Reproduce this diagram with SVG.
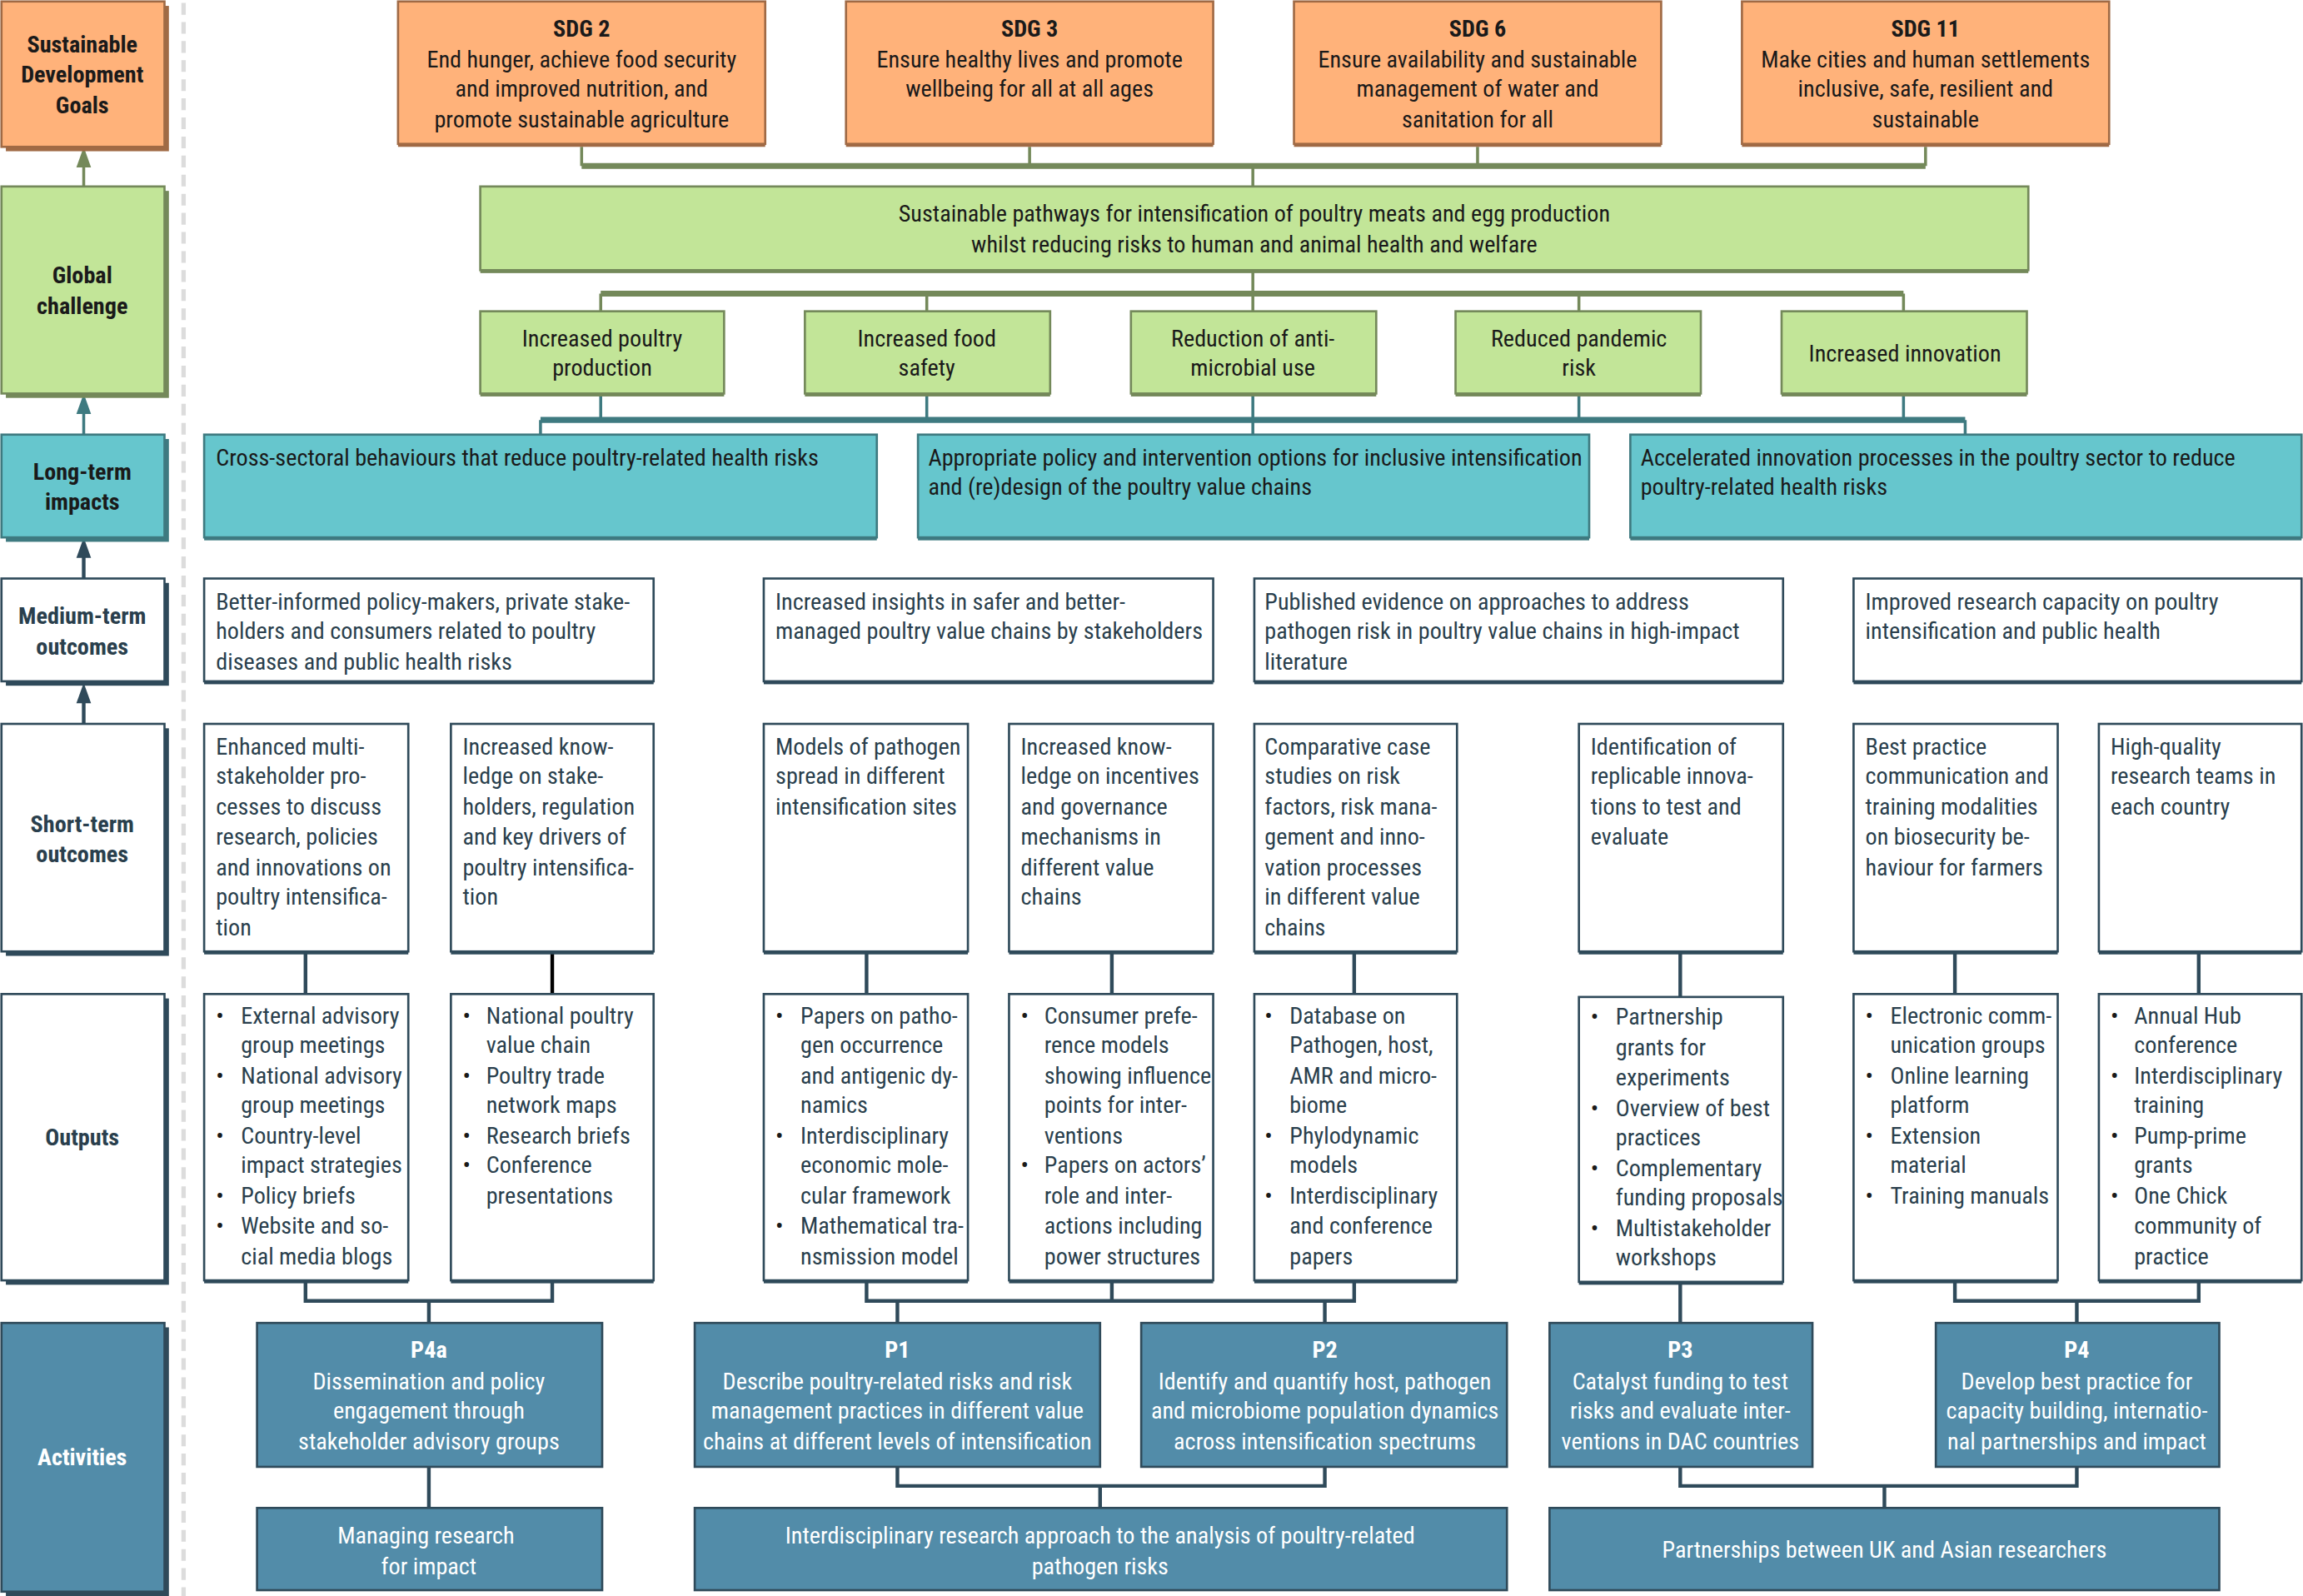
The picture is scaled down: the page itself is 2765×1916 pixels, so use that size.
<svg xmlns="http://www.w3.org/2000/svg" width="2765" height="1916" viewBox="0 0 2765 1916">
<style>
text{font-family:"Liberation Sans Narrow","Roboto Condensed","Arial Narrow","Liberation Sans",sans-serif;font-size:16px;fill:#1a1a1a}
.c{text-anchor:middle}
.b{font-weight:bold}
.w{fill:#ffffff}
.d{fill:#2a3f4d}
.or{fill:#ffb27a;stroke:#a06a45;stroke-width:1.5}
.ors{fill:#a06a45}
.gr{fill:#c2e598;stroke:#74895a;stroke-width:1.5}
.grs{fill:#74895a}
.cy{fill:#66c6cd;stroke:#3e7a80;stroke-width:1.5}
.cys{fill:#3e7a80}
.wh{fill:#ffffff;stroke:#2f4a5a;stroke-width:1.5}
.whs{fill:#2f4a5a}
.ac{fill:#528ca9;stroke:#2f4a5a;stroke-width:1.5}
.cg{fill:none;stroke:#74895a;stroke-width:2}
.cgb{fill:none;stroke:#74895a;stroke-width:4}
.ct{fill:none;stroke:#3e7a80;stroke-width:2}
.ctb{fill:none;stroke:#3e7a80;stroke-width:4}
.cd{fill:none;stroke:#2f4a5a;stroke-width:2.5}
</style>
<defs>
<marker id="ag" markerWidth="10" markerHeight="14" refX="5" refY="2" orient="auto-start-reverse" markerUnits="userSpaceOnUse" viewBox="0 0 10 14"><path d="M5,0 L10,14 L0,14 Z" fill="#74895a"/></marker>
</defs>
<rect width="2765" height="1916" fill="#ffffff"/>
<g transform="scale(1.7634,1.7627)">
<line x1="125" y1="2" x2="125" y2="1087" stroke="#dcdcdc" stroke-width="3" stroke-dasharray="8,5"/>

<g id="connectors">
<path class="cg" d="M57,127 V112"/><path d="M57,100 L62,114 L52,114 Z" fill="#74895a"/>
<path class="ct" d="M57,296 V280"/><path d="M57,268 L62,282 L52,282 Z" fill="#3e7a80"/>
<path class="cd" d="M57,394 V378"/><path d="M57,366 L62,380 L52,380 Z" fill="#2f4a5a"/>
<path class="cd" d="M57,493 V477"/><path d="M57,465 L62,479 L52,479 Z" fill="#2f4a5a"/>

<path class="cg" d="M396,100 V113 M701,100 V113 M1006,100 V113 M1311,100 V113 M853,113 V127"/>
<path class="cgb" d="M396,113 H1311"/>
<path class="cg" d="M853,184 V200 M409,200 V212 M631,200 V212 M853,200 V212 M1075,200 V212 M1296,200 V212"/>
<path class="cgb" d="M409,200 H1296"/>
<path class="ct" d="M409,268 V286 M631,268 V286 M853,268 V296 M1075,268 V286 M1296,268 V286 M368,286 V296 M1338,286 V296"/>
<path class="ctb" d="M368,286 H1338"/>

<path class="cd" d="M208,648 V677 M590,648 V677 M757,648 V677 M922,648 V677 M1144,648 V679 M1331,648 V677 M1497,648 V677"/>
<path d="M376,648 V677" stroke="#000" stroke-width="2.5"/>
<path class="cd" d="M208,872 V886 H376 V872 M292,886 V901"/>
<path class="cd" d="M590,872 V886 H922 V872 M757,872 V886 M611,886 V901 M902,886 V901"/>
<path class="cd" d="M1144,873 V901"/>
<path class="cd" d="M1331,872 V886 H1497 V872 M1414,886 V901"/>
<path class="cd" d="M292,999 V1027"/>
<path class="cd" d="M611,999 V1012 H902 V999 M749,1012 V1027"/>
<path class="cd" d="M1144,999 V1012 H1414 V999 M1283,1012 V1027"/>
</g>

<g id="lbl-sdg"><rect class="ors" x="4" y="4" width="111" height="99"/><rect class="or" x="1" y="1" width="111" height="99"/>
<text class="c b" x="56" y="36">Sustainable</text><text class="c b" x="56" y="56">Development</text><text class="c b" x="56" y="77">Goals</text></g>
<g id="lbl-global"><rect class="grs" x="4" y="130" width="111" height="141"/><rect class="gr" x="1" y="127" width="111" height="141"/>
<text class="c b" x="56" y="193">Global</text><text class="c b" x="56" y="214">challenge</text></g>
<g id="lbl-long"><rect class="cys" x="4" y="299" width="111" height="70"/><rect class="cy" x="1" y="296" width="111" height="70"/>
<text class="c b" x="56" y="327">Long-term</text><text class="c b" x="56" y="347">impacts</text></g>
<g id="lbl-medium"><rect class="whs" x="4" y="397" width="111" height="70"/><rect class="wh" x="1" y="394" width="111" height="70"/>
<text class="c b d" x="56" y="425">Medium-term</text><text class="c b d" x="56" y="446">outcomes</text></g>
<g id="lbl-short"><rect class="whs" x="4" y="496" width="111" height="155"/><rect class="wh" x="1" y="493" width="111" height="155"/>
<text class="c b d" x="56" y="567">Short-term</text><text class="c b d" x="56" y="587">outcomes</text></g>
<g id="lbl-outputs"><rect class="whs" x="4" y="680" width="111" height="195"/><rect class="wh" x="1" y="677" width="111" height="195"/>
<text class="c b d" x="56" y="780">Outputs</text></g>
<g id="lbl-activities"><rect class="whs" x="4" y="904" width="111" height="183"/><rect class="ac" x="1" y="901" width="111" height="183"/>
<text class="c b w" x="56" y="998">Activities</text></g>

<g id="sdg2"><rect class="ors" x="271" y="3" width="250" height="97"/><rect class="or" x="271" y="1" width="250" height="97"/>
<text class="c b" x="396" y="25">SDG 2</text><text class="c" x="396" y="46">End hunger, achieve food security</text><text class="c" x="396" y="66">and improved nutrition, and</text><text class="c" x="396" y="87">promote sustainable agriculture</text></g>
<g id="sdg3"><rect class="ors" x="576" y="3" width="250" height="97"/><rect class="or" x="576" y="1" width="250" height="97"/>
<text class="c b" x="701" y="25">SDG 3</text><text class="c" x="701" y="46">Ensure healthy lives and promote</text><text class="c" x="701" y="66">wellbeing for all at all ages</text></g>
<g id="sdg6"><rect class="ors" x="881" y="3" width="250" height="97"/><rect class="or" x="881" y="1" width="250" height="97"/>
<text class="c b" x="1006" y="25">SDG 6</text><text class="c" x="1006" y="46">Ensure availability and sustainable</text><text class="c" x="1006" y="66">management of water and</text><text class="c" x="1006" y="87">sanitation for all</text></g>
<g id="sdg11"><rect class="ors" x="1186" y="3" width="250" height="97"/><rect class="or" x="1186" y="1" width="250" height="97"/>
<text class="c b" x="1311" y="25">SDG 11</text><text class="c" x="1311" y="46">Make cities and human settlements</text><text class="c" x="1311" y="66">inclusive, safe, resilient and</text><text class="c" x="1311" y="87">sustainable</text></g>

<g id="pathways"><rect class="grs" x="327" y="129" width="1054" height="57"/><rect class="gr" x="327" y="127" width="1054" height="57"/>
<text class="c" x="854" y="151">Sustainable pathways for intensification of poultry meats and egg production</text><text class="c" x="854" y="172">whilst reducing risks to human and animal health and welfare</text></g>

<g id="g1"><rect class="grs" x="327" y="214" width="166" height="56"/><rect class="gr" x="327" y="212" width="166" height="56"/>
<text class="c" x="410" y="236">Increased poultry</text><text class="c" x="410" y="256">production</text></g>
<g id="g2"><rect class="grs" x="548" y="214" width="167" height="56"/><rect class="gr" x="548" y="212" width="167" height="56"/>
<text class="c" x="631" y="236">Increased food</text><text class="c" x="631" y="256">safety</text></g>
<g id="g3"><rect class="grs" x="770" y="214" width="167" height="56"/><rect class="gr" x="770" y="212" width="167" height="56"/>
<text class="c" x="853" y="236">Reduction of anti-</text><text class="c" x="853" y="256">microbial use</text></g>
<g id="g4"><rect class="grs" x="991" y="214" width="167" height="56"/><rect class="gr" x="991" y="212" width="167" height="56"/>
<text class="c" x="1075" y="236">Reduced pandemic</text><text class="c" x="1075" y="256">risk</text></g>
<g id="g5"><rect class="grs" x="1213" y="214" width="167" height="56"/><rect class="gr" x="1213" y="212" width="167" height="56"/>
<text class="c" x="1297" y="246">Increased innovation</text></g>

<g id="lt1"><rect class="cys" x="139" y="298" width="458" height="70"/><rect class="cy" x="139" y="296" width="458" height="70"/>
<text x="147" y="317">Cross-sectoral behaviours that reduce poultry-related health risks</text></g>
<g id="lt2"><rect class="cys" x="625" y="298" width="457" height="70"/><rect class="cy" x="625" y="296" width="457" height="70"/>
<text x="632" y="317">Appropriate policy and intervention options for inclusive intensification</text><text x="632" y="337">and (re)design of the poultry value chains</text></g>
<g id="lt3"><rect class="cys" x="1110" y="298" width="457" height="70"/><rect class="cy" x="1110" y="296" width="457" height="70"/>
<text x="1117" y="317">Accelerated innovation processes in the poultry sector to reduce</text><text x="1117" y="337">poultry-related health risks</text></g>

<g id="mo1"><rect class="whs" x="139" y="396" width="306" height="70"/><rect class="wh" x="139" y="394" width="306" height="70"/>
<text class="d" x="147" y="415">Better-informed policy-makers, private stake-</text><text class="d" x="147" y="435">holders and consumers related to poultry</text><text class="d" x="147" y="456">diseases and public health risks</text></g>
<g id="mo2"><rect class="whs" x="520" y="396" width="306" height="70"/><rect class="wh" x="520" y="394" width="306" height="70"/>
<text class="d" x="528" y="415">Increased insights in safer and better-</text><text class="d" x="528" y="435">managed poultry value chains by stakeholders</text></g>
<g id="mo3"><rect class="whs" x="854" y="396" width="360" height="70"/><rect class="wh" x="854" y="394" width="360" height="70"/>
<text class="d" x="861" y="415">Published evidence on approaches to address</text><text class="d" x="861" y="435">pathogen risk in poultry value chains in high-impact</text><text class="d" x="861" y="456">literature</text></g>
<g id="mo4"><rect class="whs" x="1262" y="396" width="305" height="70"/><rect class="wh" x="1262" y="394" width="305" height="70"/>
<text class="d" x="1270" y="415">Improved research capacity on poultry</text><text class="d" x="1270" y="435">intensification and public health</text></g>

<g id="so1"><rect class="whs" x="139" y="495" width="139" height="155"/><rect class="wh" x="139" y="493" width="139" height="155"/>
<text class="d" x="147" y="514">Enhanced multi-</text><text class="d" x="147" y="534">stakeholder pro-</text><text class="d" x="147" y="555">cesses to discuss</text><text class="d" x="147" y="575">research, policies</text><text class="d" x="147" y="596">and innovations on</text><text class="d" x="147" y="616">poultry intensifica-</text><text class="d" x="147" y="637">tion</text></g>
<g id="so2"><rect class="whs" x="307" y="495" width="138" height="155"/><rect class="wh" x="307" y="493" width="138" height="155"/>
<text class="d" x="315" y="514">Increased know-</text><text class="d" x="315" y="534">ledge on stake-</text><text class="d" x="315" y="555">holders, regulation</text><text class="d" x="315" y="575">and key drivers of</text><text class="d" x="315" y="596">poultry intensifica-</text><text class="d" x="315" y="616">tion</text></g>
<g id="so3"><rect class="whs" x="520" y="495" width="139" height="155"/><rect class="wh" x="520" y="493" width="139" height="155"/>
<text class="d" x="528" y="514">Models of pathogen</text><text class="d" x="528" y="534">spread in different</text><text class="d" x="528" y="555">intensification sites</text></g>
<g id="so4"><rect class="whs" x="687" y="495" width="139" height="155"/><rect class="wh" x="687" y="493" width="139" height="155"/>
<text class="d" x="695" y="514">Increased know-</text><text class="d" x="695" y="534">ledge on incentives</text><text class="d" x="695" y="555">and governance</text><text class="d" x="695" y="575">mechanisms in</text><text class="d" x="695" y="596">different value</text><text class="d" x="695" y="616">chains</text></g>
<g id="so5"><rect class="whs" x="854" y="495" width="138" height="155"/><rect class="wh" x="854" y="493" width="138" height="155"/>
<text class="d" x="861" y="514">Comparative case</text><text class="d" x="861" y="534">studies on risk</text><text class="d" x="861" y="555">factors, risk mana-</text><text class="d" x="861" y="575">gement and inno-</text><text class="d" x="861" y="596">vation processes</text><text class="d" x="861" y="616">in different value</text><text class="d" x="861" y="637">chains</text></g>
<g id="so6"><rect class="whs" x="1075" y="495" width="139" height="155"/><rect class="wh" x="1075" y="493" width="139" height="155"/>
<text class="d" x="1083" y="514">Identification of</text><text class="d" x="1083" y="534">replicable innova-</text><text class="d" x="1083" y="555">tions to test and</text><text class="d" x="1083" y="575">evaluate</text></g>
<g id="so7"><rect class="whs" x="1262" y="495" width="139" height="155"/><rect class="wh" x="1262" y="493" width="139" height="155"/>
<text class="d" x="1270" y="514">Best practice</text><text class="d" x="1270" y="534">communication and</text><text class="d" x="1270" y="555">training modalities</text><text class="d" x="1270" y="575">on biosecurity be-</text><text class="d" x="1270" y="596">haviour for farmers</text></g>
<g id="so8"><rect class="whs" x="1429" y="495" width="138" height="155"/><rect class="wh" x="1429" y="493" width="138" height="155"/>
<text class="d" x="1437" y="514">High-quality</text><text class="d" x="1437" y="534">research teams in</text><text class="d" x="1437" y="555">each country</text></g>

<g id="op1"><rect class="whs" x="139" y="679" width="139" height="195"/><rect class="wh" x="139" y="677" width="139" height="195"/>
<text x="147" y="697">•</text><text class="d" x="164" y="697">External advisory</text><text class="d" x="164" y="717">group meetings</text>
<text x="147" y="738">•</text><text class="d" x="164" y="738">National advisory</text><text class="d" x="164" y="758">group meetings</text>
<text x="147" y="779">•</text><text class="d" x="164" y="779">Country-level</text><text class="d" x="164" y="799">impact strategies</text>
<text x="147" y="820">•</text><text class="d" x="164" y="820">Policy briefs</text>
<text x="147" y="840">•</text><text class="d" x="164" y="840">Website and so-</text><text class="d" x="164" y="861">cial media blogs</text></g>
<g id="op2"><rect class="whs" x="307" y="679" width="138" height="195"/><rect class="wh" x="307" y="677" width="138" height="195"/>
<text x="315" y="697">•</text><text class="d" x="331" y="697">National poultry</text><text class="d" x="331" y="717">value chain</text>
<text x="315" y="738">•</text><text class="d" x="331" y="738">Poultry trade</text><text class="d" x="331" y="758">network maps</text>
<text x="315" y="779">•</text><text class="d" x="331" y="779">Research briefs</text>
<text x="315" y="799">•</text><text class="d" x="331" y="799">Conference</text><text class="d" x="331" y="820">presentations</text></g>
<g id="op3"><rect class="whs" x="520" y="679" width="139" height="195"/><rect class="wh" x="520" y="677" width="139" height="195"/>
<text x="528" y="697">•</text><text class="d" x="545" y="697">Papers on patho-</text><text class="d" x="545" y="717">gen occurrence</text><text class="d" x="545" y="738">and antigenic dy-</text><text class="d" x="545" y="758">namics</text>
<text x="528" y="779">•</text><text class="d" x="545" y="779">Interdisciplinary</text><text class="d" x="545" y="799">economic mole-</text><text class="d" x="545" y="820">cular framework</text>
<text x="528" y="840">•</text><text class="d" x="545" y="840">Mathematical tra-</text><text class="d" x="545" y="861">nsmission model</text></g>
<g id="op4"><rect class="whs" x="687" y="679" width="139" height="195"/><rect class="wh" x="687" y="677" width="139" height="195"/>
<text x="695" y="697">•</text><text class="d" x="711" y="697">Consumer prefe-</text><text class="d" x="711" y="717">rence models</text><text class="d" x="711" y="738">showing influence</text><text class="d" x="711" y="758">points for inter-</text><text class="d" x="711" y="779">ventions</text>
<text x="695" y="799">•</text><text class="d" x="711" y="799">Papers on actors’</text><text class="d" x="711" y="820">role and inter-</text><text class="d" x="711" y="840">actions including</text><text class="d" x="711" y="861">power structures</text></g>
<g id="op5"><rect class="whs" x="854" y="679" width="138" height="195"/><rect class="wh" x="854" y="677" width="138" height="195"/>
<text x="861" y="697">•</text><text class="d" x="878" y="697">Database on</text><text class="d" x="878" y="717">Pathogen, host,</text><text class="d" x="878" y="738">AMR and micro-</text><text class="d" x="878" y="758">biome</text>
<text x="861" y="779">•</text><text class="d" x="878" y="779">Phylodynamic</text><text class="d" x="878" y="799">models</text>
<text x="861" y="820">•</text><text class="d" x="878" y="820">Interdisciplinary</text><text class="d" x="878" y="840">and conference</text><text class="d" x="878" y="861">papers</text></g>
<g id="op6"><rect class="whs" x="1075" y="681" width="139" height="194"/><rect class="wh" x="1075" y="679" width="139" height="194"/>
<text x="1083" y="698">•</text><text class="d" x="1100" y="698">Partnership</text><text class="d" x="1100" y="719">grants for</text><text class="d" x="1100" y="739">experiments</text>
<text x="1083" y="760">•</text><text class="d" x="1100" y="760">Overview of best</text><text class="d" x="1100" y="780">practices</text>
<text x="1083" y="801">•</text><text class="d" x="1100" y="801">Complementary</text><text class="d" x="1100" y="821">funding proposals</text>
<text x="1083" y="842">•</text><text class="d" x="1100" y="842">Multistakeholder</text><text class="d" x="1100" y="862">workshops</text></g>
<g id="op7"><rect class="whs" x="1262" y="679" width="139" height="195"/><rect class="wh" x="1262" y="677" width="139" height="195"/>
<text x="1270" y="697">•</text><text class="d" x="1287" y="697">Electronic comm-</text><text class="d" x="1287" y="717">unication groups</text>
<text x="1270" y="738">•</text><text class="d" x="1287" y="738">Online learning</text><text class="d" x="1287" y="758">platform</text>
<text x="1270" y="779">•</text><text class="d" x="1287" y="779">Extension</text><text class="d" x="1287" y="799">material</text>
<text x="1270" y="820">•</text><text class="d" x="1287" y="820">Training manuals</text></g>
<g id="op8"><rect class="whs" x="1429" y="679" width="138" height="195"/><rect class="wh" x="1429" y="677" width="138" height="195"/>
<text x="1437" y="697">•</text><text class="d" x="1453" y="697">Annual Hub</text><text class="d" x="1453" y="717">conference</text>
<text x="1437" y="738">•</text><text class="d" x="1453" y="738">Interdisciplinary</text><text class="d" x="1453" y="758">training</text>
<text x="1437" y="779">•</text><text class="d" x="1453" y="779">Pump-prime</text><text class="d" x="1453" y="799">grants</text>
<text x="1437" y="820">•</text><text class="d" x="1453" y="820">One Chick</text><text class="d" x="1453" y="840">community of</text><text class="d" x="1453" y="861">practice</text></g>

<g id="p4a"><rect class="ac" x="175" y="901" width="235" height="98"/>
<text class="c b w" x="292" y="925">P4a</text><text class="c w" x="292" y="946">Dissemination and policy</text><text class="c w" x="292" y="966">engagement through</text><text class="c w" x="292" y="987">stakeholder advisory groups</text></g>
<g id="p1"><rect class="ac" x="473" y="901" width="276" height="98"/>
<text class="c b w" x="611" y="925">P1</text><text class="c w" x="611" y="946">Describe poultry-related risks and risk</text><text class="c w" x="611" y="966">management practices in different value</text><text class="c w" x="611" y="987">chains at different levels of intensification</text></g>
<g id="p2"><rect class="ac" x="777" y="901" width="249" height="98"/>
<text class="c b w" x="902" y="925">P2</text><text class="c w" x="902" y="946">Identify and quantify host, pathogen</text><text class="c w" x="902" y="966">and microbiome population dynamics</text><text class="c w" x="902" y="987">across intensification spectrums</text></g>
<g id="p3"><rect class="ac" x="1055" y="901" width="179" height="98"/>
<text class="c b w" x="1144" y="925">P3</text><text class="c w" x="1144" y="946">Catalyst funding to test</text><text class="c w" x="1144" y="966">risks and evaluate inter-</text><text class="c w" x="1144" y="987">ventions in DAC countries</text></g>
<g id="p4"><rect class="ac" x="1318" y="901" width="193" height="98"/>
<text class="c b w" x="1414" y="925">P4</text><text class="c w" x="1414" y="946">Develop best practice for</text><text class="c w" x="1414" y="966">capacity building, internatio-</text><text class="c w" x="1414" y="987">nal partnerships and impact</text></g>
<g id="mgmt"><rect class="ac" x="175" y="1027" width="235" height="56"/>
<text class="c w" x="290" y="1051">Managing research</text><text class="c w" x="292" y="1072">for impact</text></g>
<g id="interdisc"><rect class="ac" x="473" y="1027" width="553" height="56"/>
<text class="c w" x="749" y="1051">Interdisciplinary research approach to the analysis of poultry-related</text><text class="c w" x="749" y="1072">pathogen risks</text></g>
<g id="partner"><rect class="ac" x="1055" y="1027" width="456" height="56"/>
<text class="c w" x="1283" y="1061">Partnerships between UK and Asian researchers</text></g>
</g>
</svg>
